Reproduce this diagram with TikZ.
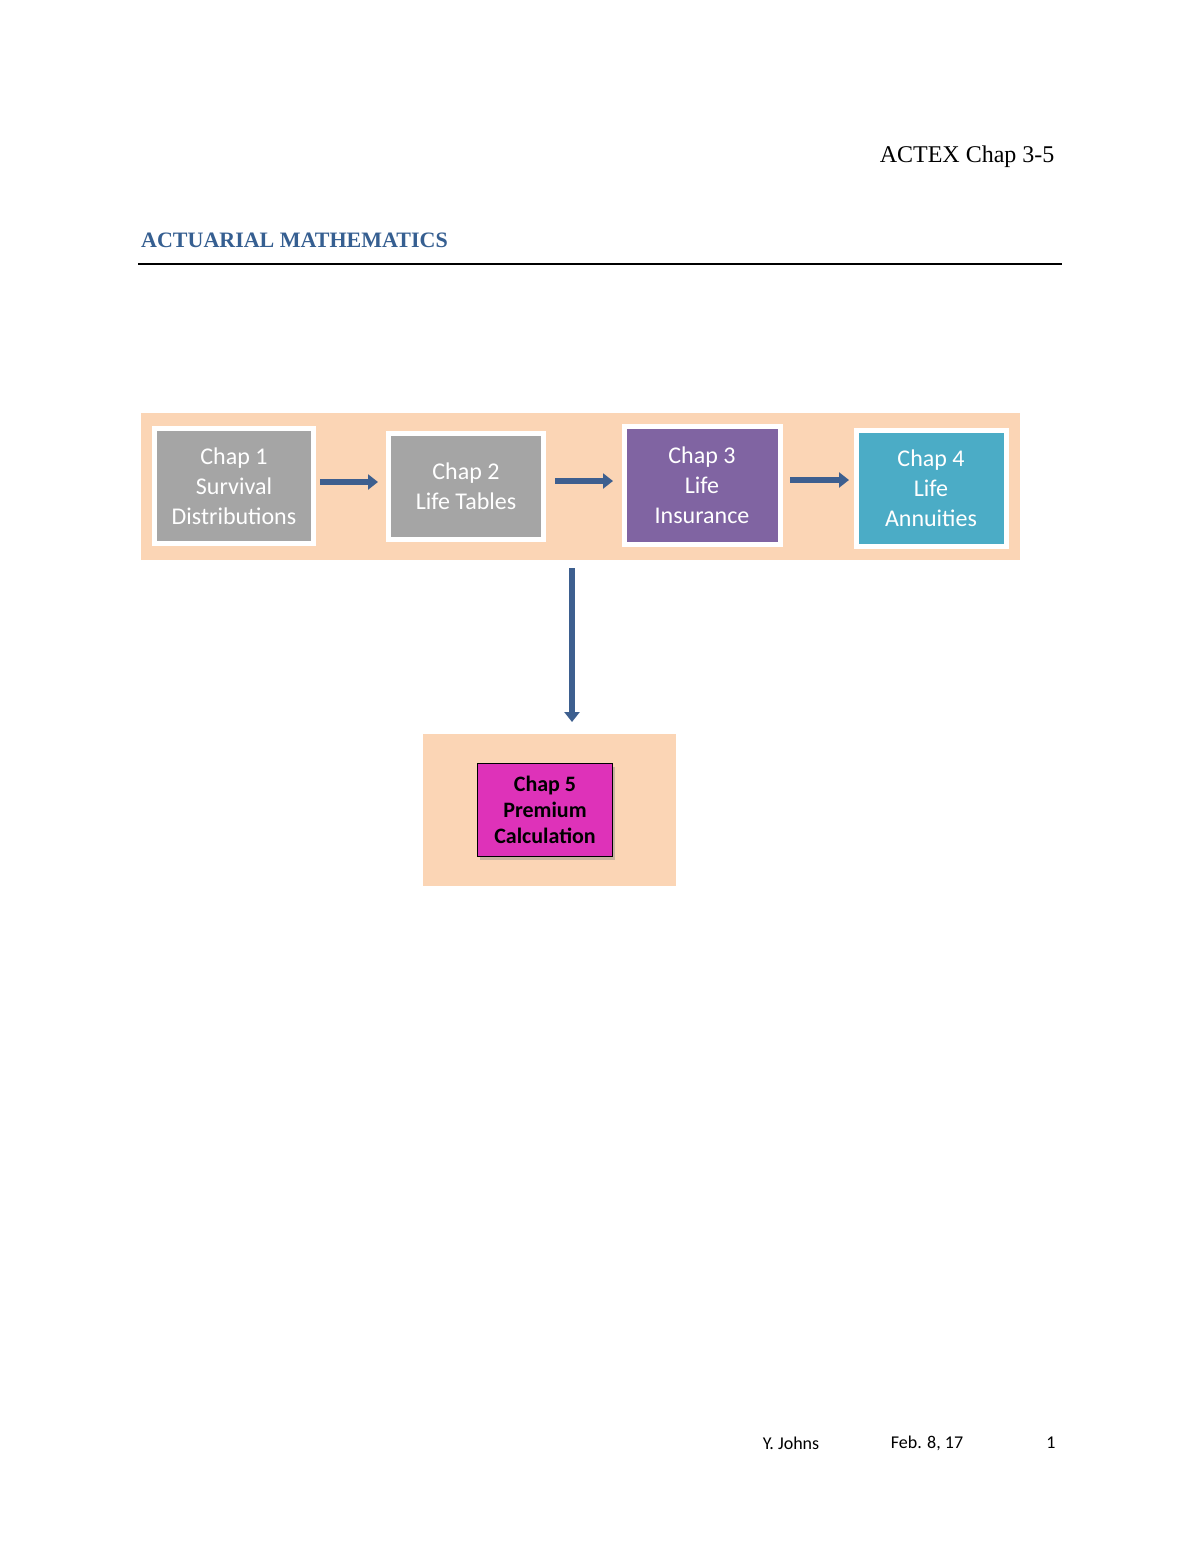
\documentclass[tikz,border=0pt]{standalone}
\usepackage{fontspec}
\setmainfont{Carlito}
\newfontfamily\serif{Liberation Serif}
\definecolor{peach}{HTML}{FBD5B5}
\definecolor{grayb}{HTML}{A5A5A5}
\definecolor{purp}{HTML}{8064A2}
\definecolor{teal}{HTML}{4BACC6}
\definecolor{mag}{HTML}{DE32B9}
\definecolor{arr}{HTML}{3D5F8F}
\definecolor{titleblue}{HTML}{365F91}
\usetikzlibrary{arrows.meta,shadows}
\tikzset{
 chap/.style={draw=white,line width=5pt,text=white,align=center,font=\fontsize{24}{30}\selectfont},
 conn/.style={draw=arr,line width=6pt,-{Triangle[length=10pt,width=15pt]}},
}
\begin{document}
\begin{tikzpicture}[x=1pt,y=-1pt]
\useasboundingbox (0,0) rectangle (1200,1553);
\fill[white] (0,0) rectangle (1200,1553);
\node[anchor=east,font=\serif\fontsize{24}{28}\selectfont] (hdr) at (1058,157) {ACTEX Chap 3-5};
\node[anchor=west,font=\serif\bfseries\fontsize{22}{26}\selectfont,text=titleblue,inner sep=0] (ttl) at (141,240) {ACTUARIAL MATHEMATICS};
\draw[line width=2.5pt] (138,264) -- (1062,264);
\fill[peach] (141,413) rectangle (1020,560);
\fill[peach] (423,734) rectangle (676,886);
\node[chap,fill=grayb,minimum width=159pt,minimum height=115pt] (c1) at (234,486) {Chap 1\\Survival\\Distributions};
\node[chap,fill=grayb,minimum width=155pt,minimum height=106pt] (c2) at (466,486) {Chap 2\\Life Tables};
\node[chap,fill=purp,minimum width=156pt,minimum height=118pt] (c3) at (702,485) {Chap 3\\Life\\Insurance};
\node[chap,fill=teal,minimum width=150pt,minimum height=116pt] (c4) at (931,488) {Chap 4\\Life\\Annuities};
\draw[conn] (320,482) -- (378,482);
\draw[conn] (555,481) -- (613,481);
\draw[conn] (790,480) -- (849,480);
\coordinate (dtop) at (572,568);
\coordinate (dbot) at (572,722);
\draw[conn] (dtop) -- (dbot);
\node[draw=black,line width=0.8pt,fill=mag,drop shadow={opacity=0.4,shadow xshift=2pt,shadow yshift=-3pt},minimum width=135pt,minimum height=93pt,align=center,font=\bfseries\fontsize{22}{26}\selectfont] (c5) at (545,810) {Chap 5\\Premium\\Calculation};
\node[font=\fontsize{18}{22}\selectfont] (f1) at (791,1443) {Y. Johns};
\node[font=\fontsize{18}{22}\selectfont] (f2) at (927,1443) {Feb. 8, 17};
\node[font=\fontsize{18}{22}\selectfont] (f3) at (1051,1443) {1};
\end{tikzpicture}
\end{document}
